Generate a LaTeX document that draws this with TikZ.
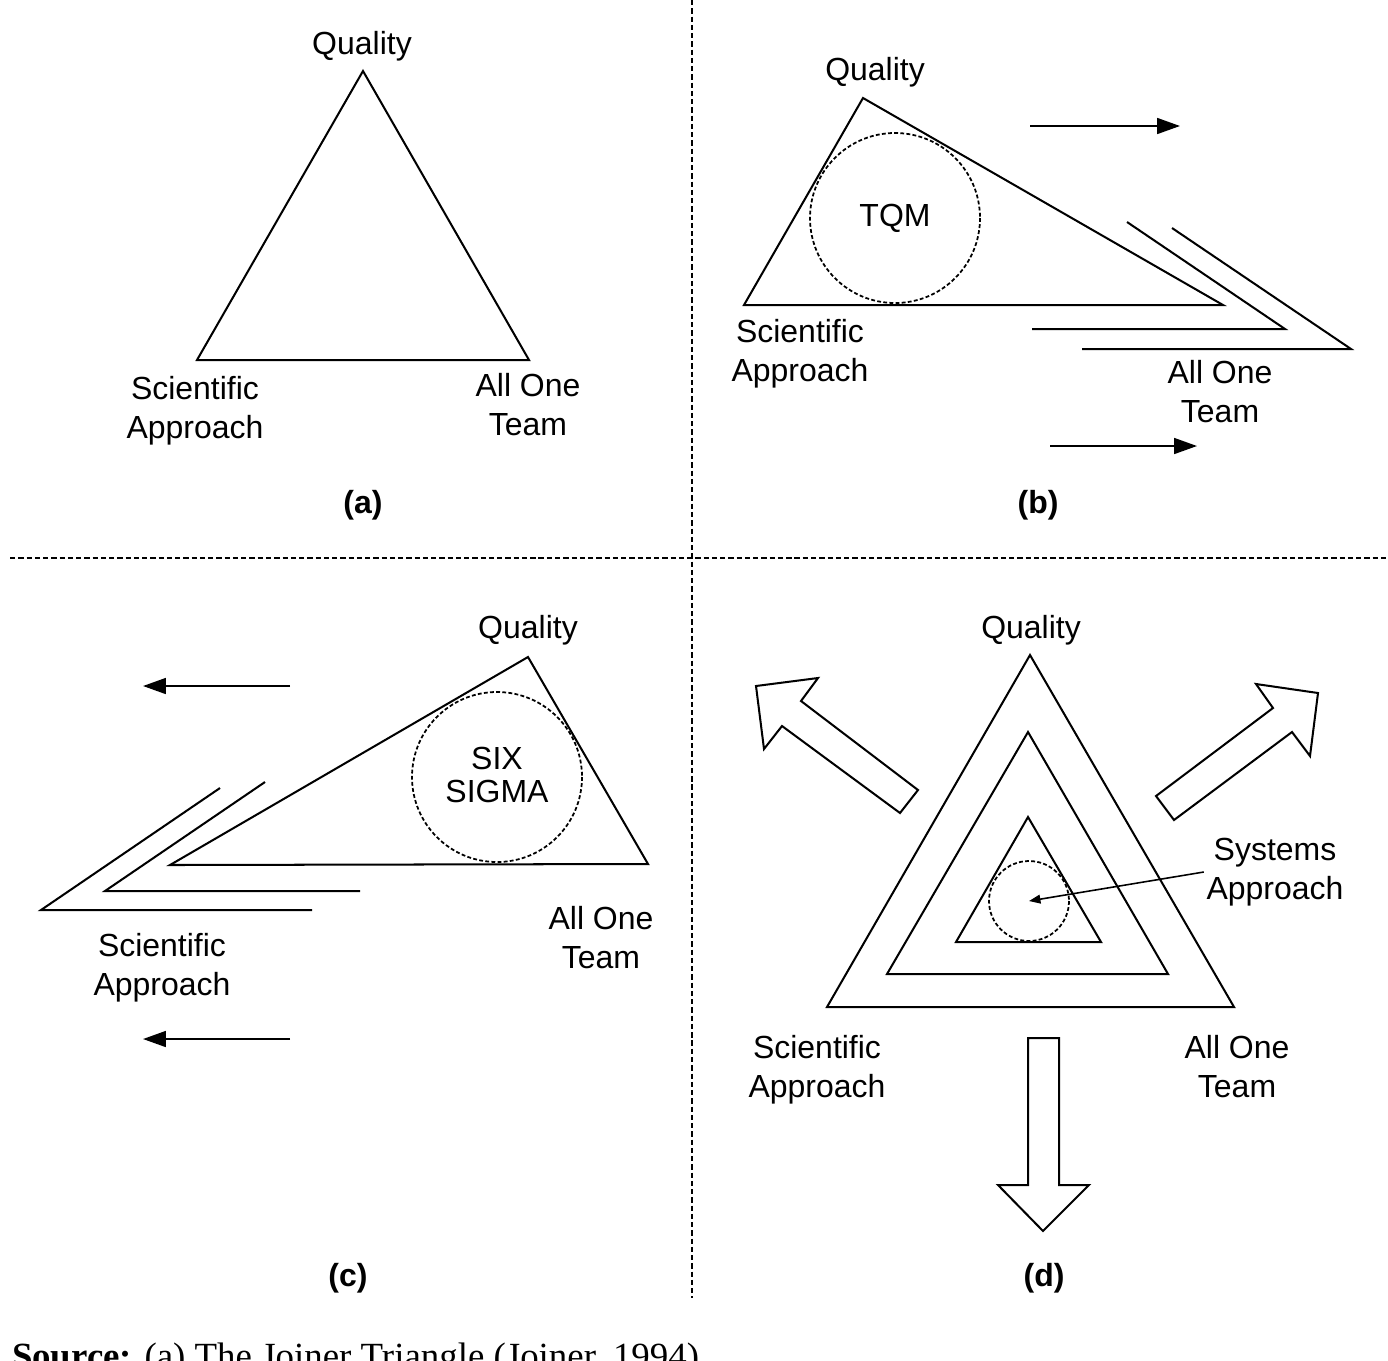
\documentclass[tikz,border=0pt]{standalone}
\usepackage{fontspec}
\setmainfont{Liberation Sans}
\newfontfamily\srcfont{Liberation Serif}
\usetikzlibrary{arrows.meta}

\begin{document}
\begin{tikzpicture}[x=0.02cm,y=-0.02cm,line width=1.15pt,
  lbl/.style={font=\fontsize{18.2}{22.2}\selectfont,align=center,inner sep=1pt},
  panel/.style={font=\fontsize{18.2}{22.2}\selectfont\bfseries,inner sep=1pt},
  divider/.style={line width=.75pt,dash pattern=on 3pt off 1.7pt},
  ring/.style={line width=1pt,dash pattern=on 2.2pt off 1.3pt},
  flow/.style={-{Triangle[length=13pt,width=9pt]}}]
\useasboundingbox (0,0) rectangle (1388,1360);
\draw[divider] (692,0)--(692,1298); \draw[divider] (10,558)--(1388,558);

% (a)
\coordinate (aQ) at (363,71); \coordinate (aS) at (197,360); \coordinate (aT) at (529,360);
\draw (aQ)--(aS)--(aT)--cycle;
\node[lbl] (aqual) at (362,46) {Quality}; \node[lbl] (asci) at (195,411) {Scientific\\Approach};
\node[lbl] (ateam) at (528,405) {All One\\Team}; \node[panel] (acap) at (363,505) {(a)};

% (b)
\coordinate (bQ) at (863,98); \coordinate (bS) at (744,305); \coordinate (bT) at (1223,305);
\draw (bQ)--(bS)--(bT)--cycle;
\draw (1127,222)--(1285,329)--(1032,329); \draw (1172,228)--(1351,349)--(1082,349);
\draw[ring] (895,218) circle (85); \node[lbl] (tqm) at (895,218) {TQM};
\coordinate (b1) at (1030,126); \coordinate (b2) at (1180,126); \draw[flow] (b1)--(b2);
\coordinate (b3) at (1050,446); \coordinate (b4) at (1197,446); \draw[flow] (b3)--(b4);
\node[lbl] (bqual) at (875,72) {Quality}; \node[lbl] (bsci) at (800,354) {Scientific\\Approach};
\node[lbl] (bteam) at (1220,392) {All One\\Team}; \node[panel] (bcap) at (1038,505) {(b)};

% (c)
\coordinate (cQ) at (528,657); \coordinate (cS) at (170,865); \coordinate (cT) at (648,864);
\draw (cQ)--(cS)--(cT)--cycle;
\draw (265,782)--(105,891)--(360,891); \draw (220,788)--(41,910)--(312,910);
\draw[ring] (497,777) circle (85);
\node[lbl,font=\fontsize{18.2}{18.4}\selectfont] (six) at (497,775) {SIX\\SIGMA};
\coordinate (c1) at (290,686); \coordinate (c2) at (143,686); \draw[flow] (c1)--(c2);
\coordinate (c3) at (290,1039); \coordinate (c4) at (143,1039); \draw[flow] (c3)--(c4);
\node[lbl] (cqual) at (528,630) {Quality}; \node[lbl] (csci) at (162,968) {Scientific\\Approach};
\node[lbl] (cteam) at (601,938) {All One\\Team}; \node[panel] (ccap) at (348,1278) {(c)};

% (d)
\draw (1030,655)--(827,1007)--(1234,1007)--cycle;
\draw (1028,732)--(887,974)--(1168,974)--cycle;
\draw (1028,817)--(956,942)--(1101,942)--cycle;
\coordinate (dc) at (1029,901); \draw[ring] (dc) circle (40);
\draw (756,686)--(818,678)--(801,701)--(918,790)--(900,813)--(782,726)--(764,749)--cycle;
\draw (1318,693)--(1310,756)--(1292,732)--(1174,820)--(1156,796)--(1273,708)--(1256,684)--cycle;
\draw (1028,1038)--(1059,1038)--(1059,1185)--(1089,1185)--(1043,1231)--(998,1185)--(1028,1185)--cycle;
\node[lbl] (sys) at (1275,872) {Systems\\Approach};
\draw[line width=.9pt,-{Triangle[length=6.5pt,width=5pt]}] (sys.west)--(dc);
\node[lbl] (dqual) at (1031,630) {Quality}; \node[lbl] (dsci) at (817,1070) {Scientific\\Approach};
\node[lbl] (dteam) at (1237,1067) {All One\\Team}; \node[panel] (dcap) at (1044,1278) {(d)};

\node[anchor=base west,inner sep=0pt,font=\srcfont\fontsize{21}{25}\selectfont] (src) at (11,1368)
  {\textbf{Source:} (a) The Joiner Triangle (Joiner, 1994)};
\end{tikzpicture}
\end{document}
